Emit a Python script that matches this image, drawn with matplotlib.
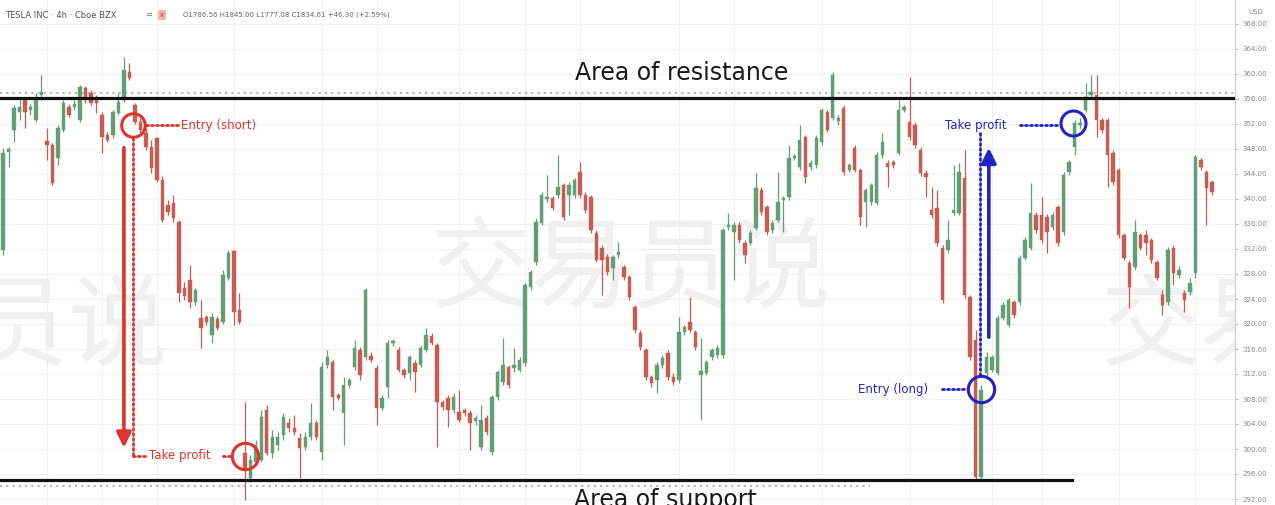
import matplotlib
matplotlib.use("Agg")
import matplotlib.pyplot as plt
import numpy as np

# 4h candles (price in USD)
opens = [
    331.8, 347.5, 351.0, 353.9, 355.8, 354.2, 352.6, 356.6, 349.3, 348.6,
    346.6, 351.0, 354.7, 354.7, 352.6, 357.8, 357.0, 356.3, 353.4, 350.2,
    350.2, 353.8, 355.8, 360.3, 355.0, 352.3, 350.6, 348.3, 349.8, 343.0,
    339.0, 339.4, 336.3, 325.8, 327.0, 323.5, 321.0, 321.1, 318.2, 320.8,
    320.3, 327.4, 331.7, 322.2, 299.4, 295.4, 297.9, 298.2, 306.2, 299.4,
    300.6, 302.2, 304.2, 303.4, 301.8, 300.3, 301.9, 304.2, 299.5, 313.4,
    313.9, 308.6, 305.8, 310.2, 313.1, 315.8, 314.7, 314.9, 313.0, 306.6,
    309.9, 317.0, 315.8, 312.6, 312.2, 313.8, 313.4, 315.8, 318.1, 316.6,
    307.5, 308.2, 306.2, 305.9, 306.2, 305.8, 304.5, 300.3, 305.0, 299.5,
    308.3, 310.7, 313.1, 313.0, 312.6, 313.8, 325.9, 329.9, 336.2, 340.0,
    340.2, 340.6, 342.2, 340.6, 340.6, 344.3, 340.6, 340.3, 334.6, 332.2,
    330.7, 329.0, 331.0, 329.1, 327.5, 322.7, 318.6, 315.8, 311.5, 311.0,
    313.4, 315.4, 311.5, 311.0, 318.7, 320.3, 318.7, 311.8, 312.2, 314.7,
    315.0, 315.0, 335.5, 334.7, 335.8, 333.0, 333.0, 335.4, 341.4, 338.7,
    335.0, 336.6, 339.8, 340.3, 346.6, 345.1, 349.9, 345.1, 345.4, 349.1,
    353.9, 353.0, 352.5, 354.6, 344.6, 348.2, 344.6, 339.5, 339.5, 339.4,
    347.0, 345.8, 345.9, 347.4, 354.2, 352.3, 351.8, 347.8, 344.2, 338.2,
    338.6, 332.2, 331.8, 337.8, 337.8, 343.4, 324.3, 317.4, 295.5, 312.2,
    312.6, 312.2, 321.0, 319.8, 323.5, 323.5, 330.6, 332.2, 337.4, 337.4,
    337.1, 335.5, 338.7, 334.7, 344.3, 348.3, 351.8, 354.2, 356.6, 356.6,
    352.6, 352.6, 347.4, 344.6, 334.2, 329.8, 329.1, 334.2, 334.2, 333.4,
    329.9, 324.6, 323.5, 332.2, 327.8, 325.0, 325.1, 328.2, 346.2, 344.3,
    342.7,
]
highs = [
    348.2, 348.3, 355.0, 355.8, 356.3, 355.2, 357.0, 359.8, 351.4, 349.0,
    351.8, 355.8, 355.2, 355.8, 358.2, 358.1, 357.4, 356.6, 353.9, 350.7,
    354.2, 357.0, 362.7, 361.8, 355.4, 353.0, 351.4, 349.4, 349.9, 343.7,
    339.8, 340.6, 336.6, 326.7, 329.4, 325.8, 323.8, 321.4, 321.8, 321.3,
    328.6, 331.8, 331.8, 325.0, 307.5, 299.0, 301.4, 306.2, 307.0, 303.0,
    302.7, 305.8, 305.0, 305.4, 302.6, 302.7, 307.4, 304.6, 313.9, 315.8,
    314.2, 309.0, 311.5, 311.4, 317.4, 316.3, 325.8, 315.5, 313.4, 308.6,
    317.4, 317.6, 316.3, 313.0, 315.0, 314.2, 316.6, 319.4, 318.6, 317.0,
    307.8, 308.6, 309.0, 309.4, 306.6, 306.2, 305.4, 307.0, 305.4, 308.6,
    312.6, 317.8, 313.4, 316.2, 314.7, 326.6, 328.6, 337.0, 341.1, 343.8,
    340.5, 347.0, 342.6, 342.7, 343.4, 345.9, 341.1, 340.6, 335.0, 332.6,
    331.2, 331.0, 333.1, 329.4, 327.8, 323.0, 319.0, 316.2, 311.8, 313.9,
    315.0, 315.8, 312.2, 321.1, 319.8, 324.3, 319.0, 317.8, 314.2, 316.2,
    316.6, 335.4, 337.8, 336.3, 336.3, 333.4, 335.0, 344.2, 341.9, 339.0,
    336.6, 344.3, 340.5, 348.6, 347.2, 351.8, 350.2, 346.2, 350.2, 354.6,
    354.2, 360.3, 353.4, 355.0, 345.8, 348.6, 345.0, 341.8, 342.6, 347.5,
    350.6, 346.2, 346.2, 355.8, 355.0, 359.5, 352.3, 348.3, 344.6, 341.9,
    341.4, 332.6, 336.6, 345.4, 345.8, 347.8, 324.6, 319.0, 310.2, 315.5,
    315.0, 321.4, 323.5, 324.2, 323.8, 331.0, 333.9, 342.6, 337.9, 340.3,
    337.6, 337.9, 339.0, 344.3, 346.2, 352.6, 353.0, 358.6, 359.8, 359.8,
    353.0, 353.0, 347.8, 345.0, 334.6, 330.2, 336.6, 334.6, 335.0, 333.8,
    330.2, 325.4, 332.3, 332.6, 329.3, 325.4, 327.4, 347.0, 346.6, 344.6,
    343.0,
]
lows = [
    331.0, 345.1, 349.1, 352.6, 351.4, 353.4, 352.3, 355.8, 346.2, 342.2,
    345.4, 350.7, 353.1, 354.2, 352.3, 355.4, 355.0, 353.8, 347.4, 349.1,
    349.8, 353.4, 355.5, 359.0, 352.0, 350.6, 347.8, 344.2, 342.7, 336.3,
    337.4, 336.3, 323.5, 323.8, 322.6, 323.0, 316.2, 319.8, 317.0, 319.0,
    320.0, 327.0, 319.8, 320.0, 291.8, 294.7, 297.4, 297.9, 299.0, 298.6,
    299.8, 301.4, 302.7, 302.2, 295.4, 299.8, 301.4, 301.4, 298.2, 313.0,
    306.2, 307.8, 300.6, 309.8, 312.6, 311.0, 314.2, 313.9, 303.8, 306.2,
    308.2, 316.5, 312.3, 311.4, 311.0, 309.1, 313.1, 315.5, 316.6, 300.3,
    306.2, 303.5, 305.8, 304.3, 305.3, 299.8, 303.8, 299.8, 302.2, 299.0,
    307.8, 310.2, 309.8, 312.3, 312.3, 313.3, 325.4, 329.4, 335.8, 339.5,
    338.2, 340.2, 336.6, 337.4, 340.2, 340.2, 337.8, 334.6, 329.9, 324.6,
    327.8, 327.0, 330.6, 327.0, 323.8, 318.6, 315.8, 311.0, 309.9, 309.0,
    313.0, 311.0, 310.2, 310.6, 318.2, 318.7, 315.8, 304.6, 311.8, 314.2,
    314.6, 314.6, 335.0, 327.0, 333.0, 329.8, 332.6, 335.0, 337.4, 334.2,
    334.6, 336.3, 334.7, 339.8, 346.2, 344.6, 342.6, 344.6, 345.0, 348.6,
    350.7, 352.6, 351.8, 343.8, 344.3, 344.3, 335.8, 335.5, 339.0, 339.0,
    346.6, 341.9, 345.0, 347.0, 353.9, 349.4, 348.2, 343.7, 340.3, 337.0,
    332.5, 323.4, 331.4, 337.4, 337.4, 324.2, 314.2, 295.0, 295.0, 311.7,
    312.3, 311.8, 320.6, 319.5, 321.0, 323.0, 330.2, 331.8, 334.6, 333.0,
    331.4, 335.0, 332.5, 334.2, 343.8, 347.0, 351.4, 353.9, 356.2, 349.9,
    350.6, 341.9, 342.2, 333.8, 330.2, 322.6, 328.6, 331.8, 331.0, 329.8,
    327.0, 321.4, 323.0, 326.2, 327.4, 321.9, 324.6, 327.4, 344.6, 335.8,
    340.6,
]
closes = [
    347.4, 348.0, 354.6, 354.7, 353.9, 354.7, 356.2, 357.1, 348.6, 342.6,
    351.4, 355.4, 353.4, 355.2, 357.9, 355.8, 355.4, 355.4, 349.9, 349.4,
    353.9, 355.5, 360.6, 359.4, 352.3, 351.0, 348.3, 345.0, 343.0, 336.6,
    337.9, 337.0, 325.0, 324.5, 323.5, 325.4, 319.4, 320.3, 321.1, 319.4,
    327.8, 331.4, 321.9, 320.3, 296.6, 298.2, 300.6, 305.1, 299.4, 301.9,
    301.9, 305.1, 303.4, 302.7, 300.2, 301.9, 304.2, 301.9, 313.1, 314.7,
    308.3, 308.2, 310.2, 311.0, 316.2, 311.8, 325.4, 314.2, 306.6, 308.2,
    317.0, 317.3, 312.6, 311.8, 314.7, 312.3, 316.2, 318.2, 317.0, 307.5,
    306.7, 306.2, 308.3, 304.6, 305.8, 304.2, 305.0, 304.6, 302.7, 308.3,
    312.3, 313.4, 310.2, 313.4, 314.2, 326.2, 328.3, 336.3, 340.6, 340.3,
    338.6, 341.9, 337.1, 342.2, 343.0, 340.6, 338.2, 335.0, 330.2, 330.2,
    328.3, 330.7, 331.5, 327.5, 324.3, 319.0, 316.3, 311.5, 310.6, 313.4,
    314.6, 311.5, 310.7, 318.7, 319.5, 319.0, 316.3, 312.5, 313.9, 315.8,
    316.2, 335.0, 335.8, 335.8, 333.4, 331.0, 334.6, 341.8, 337.9, 334.7,
    336.2, 339.5, 340.2, 346.6, 346.9, 349.4, 343.5, 345.8, 349.8, 354.2,
    351.0, 359.8, 353.0, 344.3, 345.4, 344.6, 337.1, 341.4, 342.2, 347.0,
    349.1, 345.1, 345.4, 354.2, 354.7, 349.9, 348.6, 344.2, 343.5, 337.4,
    333.0, 323.8, 333.4, 338.2, 344.3, 324.6, 314.7, 295.5, 309.4, 314.7,
    314.7, 321.0, 323.0, 323.8, 321.4, 330.6, 333.4, 337.8, 335.0, 333.4,
    334.7, 337.4, 333.0, 343.8, 345.9, 352.2, 352.2, 356.3, 357.1, 352.6,
    351.0, 347.0, 342.7, 334.2, 330.6, 325.9, 334.7, 332.2, 333.0, 330.2,
    327.4, 323.0, 331.8, 328.2, 328.6, 323.8, 326.6, 346.7, 345.1, 341.8,
    341.1,
]

# price levels drawn on the chart
resistance = 356.1
resistance_dots = 357.0
support = 295.0
support_dots = 294.1
support_end = 194.5      # candle index where the support line stops
support_dots_end = 157.8

# date grid positions (candle index)
grid_idx = [8, 18, 28, 42, 58, 68, 83, 95, 105, 123, 133, 149, 165, 180, 189, 203, 217]
price_ticks = list(range(292, 369, 4))

# trade annotations: (candle index, price)
short_entry = (23.7, 351.8)
short_target = (44.0, 298.9)
long_entry = (178.0, 309.6)
long_target = (194.7, 352.2)

GREEN = "#639e76"
RED = "#c95c52"
ANN_RED = "#e2322d"
ANN_BLUE = "#2323c4"
W, H = 1275, 505

fig = plt.figure(figsize=(W / 100, H / 100), dpi=100)
fig.patch.set_facecolor("white")
ax = fig.add_axes([0, 0, 1235 / W, 1])
ax.set_facecolor("white")

o = np.array(opens)
h = np.array(highs)
l = np.array(lows)
c = np.array(closes)
idx = np.arange(len(o))
cols = np.where(c >= o, GREEN, RED)

# grid
for p in price_ticks:
    ax.axhline(p, color="#f1f1f1", lw=0.8, zorder=0)
for g in grid_idx:
    ax.axvline(g, color="#f1f1f1", lw=0.8, zorder=0)

# watermark (clipped to the plot area)
wm = dict(color="#f0f0f0", fontsize=72, family=["Noto Sans CJK SC", "DejaVu Sans"],
          transform=fig.transFigure, va="center", zorder=0.5, clip_on=True)
ax.text(168 / W, 1 - 330 / H, "交易员说", ha="right", **wm)
ax.text(630 / W, 1 - 272 / H, "交易员说", ha="center", **wm)
ax.text(1100 / W, 1 - 330 / H, "交易员说", ha="left", **wm)

# candles
ax.vlines(idx, l, h, colors=cols, lw=0.9, zorder=2)
body_lo = np.minimum(o, c)
body_h = np.maximum(np.abs(c - o), 0.35)
ax.bar(idx, body_h, bottom=body_lo, width=0.62, color=cols, edgecolor=cols, lw=0.3, zorder=3)

# levels
x_left, x_right = -0.55, 224.2
ax.plot([x_left, x_right], [resistance_dots] * 2, color="#b5b5b5", lw=1.5, ls=(0, (1, 2)), zorder=1)
ax.plot([x_left, x_right], [resistance] * 2, color="#111111", lw=2.3, zorder=4)
ax.plot([x_left, support_dots_end], [support_dots] * 2, color="#b5b5b5", lw=1.5, ls=(0, (1, 2)), zorder=1)
ax.plot([x_left, support_end], [support] * 2, color="#111111", lw=2.3, zorder=4)

ax.text(123.5, 360.2, "Area of resistance", fontsize=17, color="#1a1a1a", ha="center", va="center")
ax.text(120.5, 293.7, "Area of support", fontsize=17, color="#1a1a1a", ha="center", va="top")

dot = dict(lw=2.0, ls=(0, (0.7, 1.1)), dash_capstyle="round", zorder=6)

# short trade (red)
sx, sy = short_entry
tx, ty = short_target
ax.plot(sx, sy, "o", ms=17, mfc="none", mec=ANN_RED, mew=2.2, zorder=7)
ax.plot([sx + 2.3, 32.2], [sy, sy], color=ANN_RED, **dot)
ax.text(32.4, sy, "Entry (short)", color=ANN_RED, fontsize=8.5, va="center", ha="left")
ax.plot([sx, sx], [sy - 2.0, ty], color=ANN_RED, **dot)
ax.plot([sx, 26.3], [ty, ty], color=ANN_RED, **dot)
ax.text(26.5, ty, "Take profit", color=ANN_RED, fontsize=8.5, va="center", ha="left")
ax.plot([40.1, tx - 2.5], [ty, ty], color=ANN_RED, **dot)
ax.plot(tx, ty, "o", ms=19, mfc="none", mec=ANN_RED, mew=2.2, zorder=7)
ax.annotate("", xy=(22.0, 300.2), xytext=(22.0, 348.2),
            arrowprops=dict(arrowstyle="-|>,head_length=0.45,head_width=0.22", color=ANN_RED,
                            lw=2.6, mutation_scale=20, shrinkA=0, shrinkB=0), zorder=6)

# long trade (blue)
lx, ly = long_entry
px, py = long_target
ax.text(155.6, ly, "Entry (long)", color=ANN_BLUE, fontsize=8.5, va="center", ha="left")
ax.plot([170.8, lx - 2.5], [ly, ly], color=ANN_BLUE, **dot)
ax.plot(lx, ly, "o", ms=19, mfc="none", mec=ANN_BLUE, mew=2.2, zorder=7)
ax.plot([lx - 0.2, lx - 0.2], [ly + 2.2, 350.6], color=ANN_BLUE, **dot)
ax.annotate("", xy=(179.4, 348.2), xytext=(179.4, 317.9),
            arrowprops=dict(arrowstyle="-|>,head_length=0.45,head_width=0.22", color=ANN_BLUE,
                            lw=2.6, mutation_scale=20, shrinkA=0, shrinkB=0), zorder=6)
ax.text(171.4, py - 0.4, "Take profit", color=ANN_BLUE, fontsize=8.5, va="center", ha="left")
ax.plot([185.1, px - 2.3], [py - 0.4, py - 0.4], color=ANN_BLUE, **dot)
ax.plot(px, py, "o", ms=18, mfc="none", mec=ANN_BLUE, mew=2.2, zorder=7)

# axes styling
ax.set_xlim(x_left, x_right)
ax.set_ylim(291.04, 371.84)
ax.set_xticks([])
ax.yaxis.tick_right()
ax.set_yticks(price_ticks)
ax.set_yticklabels([f"{p:.2f}" for p in price_ticks])
ax.tick_params(axis="y", direction="out", length=2.5, width=0.6, color="#aaaaaa",
               labelsize=5, labelcolor="#888888", pad=3)
for side in ["top", "left", "bottom"]:
    ax.spines[side].set_visible(False)
ax.spines["right"].set_color("#cccccc")
ax.spines["right"].set_linewidth(0.8)

# header
fig.text(5 / W, 1 - 15 / H, "TESLA INC · 4h · Cboe BZX", fontsize=6, color="#555555", va="center")
fig.text(145 / W, 1 - 15 / H, "=", fontsize=6, color="#777777", va="center")
fig.text(160 / W, 1 - 15 / H, "x", fontsize=5, color="#c0392b", va="center",
         bbox=dict(boxstyle="square,pad=0.25", fc="#f4b6b0", ec="none"))
fig.text(183 / W, 1 - 15 / H, "O1786.56 H1845.00 L1777.08 C1834.61 +46.30 (+2.59%)",
         fontsize=5, color="#666666", va="center")
fig.text(1248 / W, 1 - 12 / H, "USD", fontsize=5, color="#888888", va="center")

fig.savefig("out.png", dpi=100, facecolor="white")
